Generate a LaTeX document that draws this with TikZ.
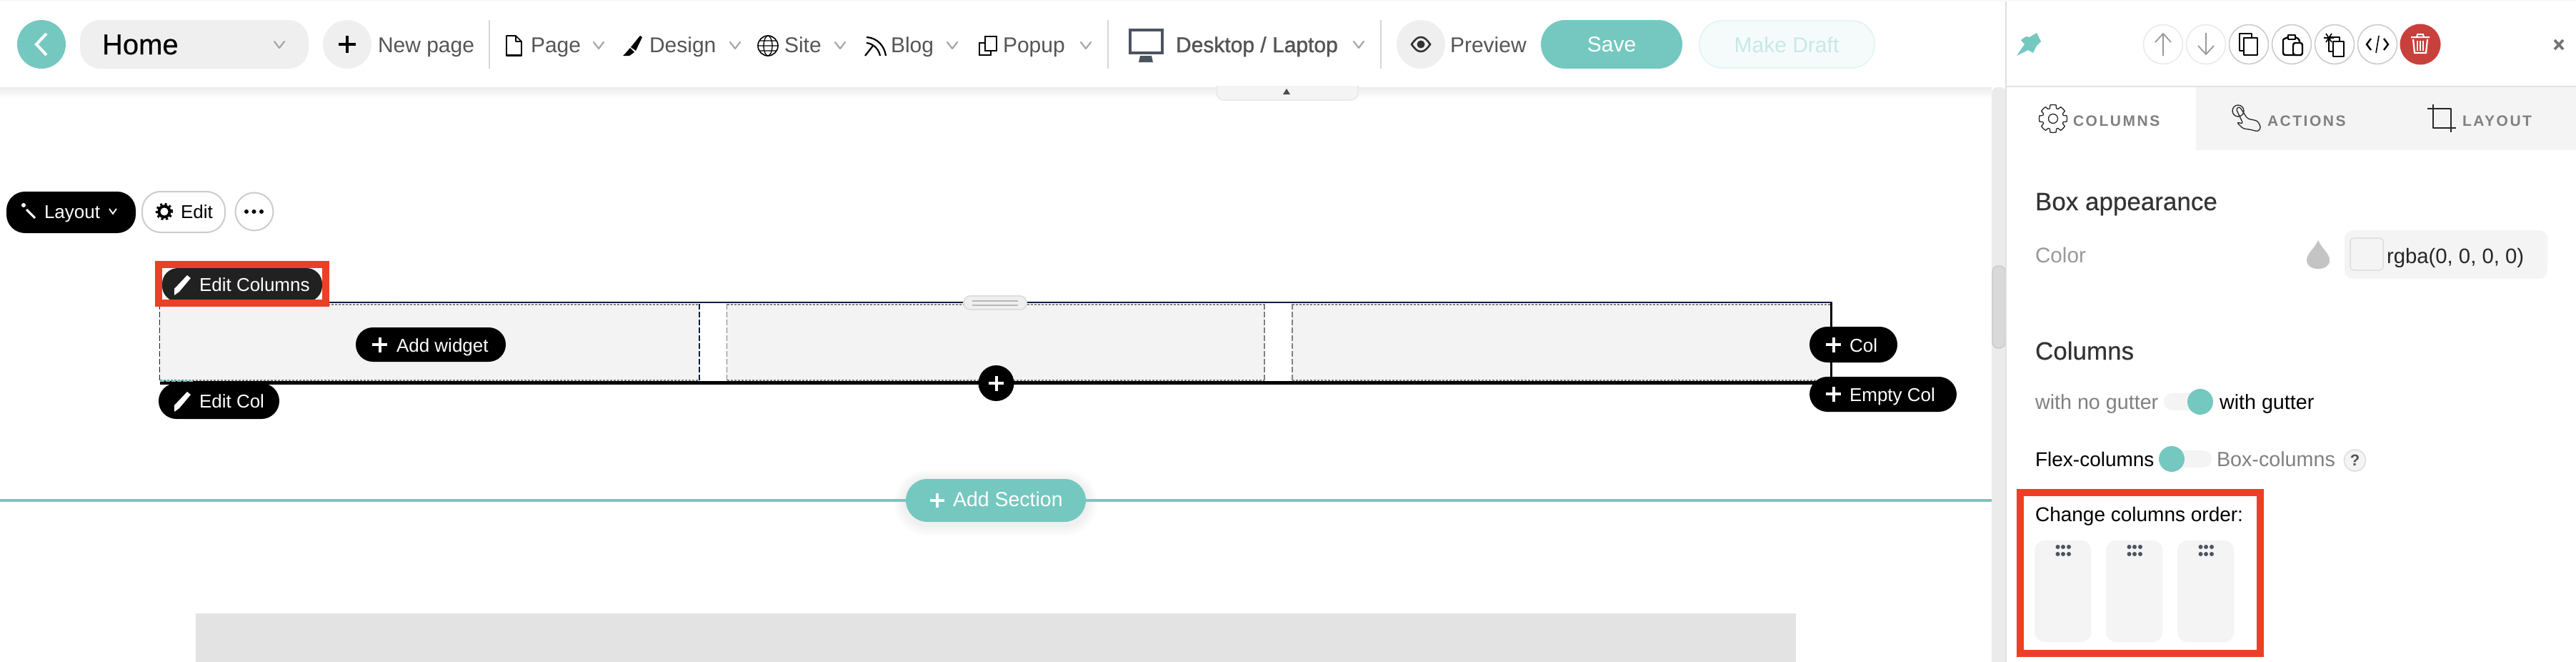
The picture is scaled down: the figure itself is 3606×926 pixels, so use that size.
\documentclass[tikz,border=0pt]{standalone}
\usepackage{fontspec}
\setmainfont{Liberation Sans}
\usetikzlibrary{shadows.blur}
\definecolor{teal1}{HTML}{74C8C0}
\definecolor{redbox}{HTML}{EA4025}
\definecolor{greyA}{HTML}{EFEFEF}
\definecolor{greyB}{HTML}{F4F4F4}
\definecolor{colfill}{HTML}{F3F3F3}
\definecolor{txtA}{HTML}{555555}
\definecolor{navy}{HTML}{0A2240}
\definecolor{trash}{HTML}{C8403C}
\definecolor{slate}{HTML}{4C5460}
\newcommand{\fs}[1]{\fontsize{#1}{#1}\selectfont}
\tikzset{
 x=1pt,y=-1pt,
 lbl/.style={inner sep=0pt,outer sep=0pt,anchor=base west,font=\fs{30},text=txtA},
 plbl/.style={lbl,font=\fs{28.7}},
 chev/.style={draw=gray!70,line width=2.2pt,line cap=round,line join=round},
 ticon/.style={draw=black,line width=2.4pt,line join=round},
 tool/.style={circle,minimum size=55pt,inner sep=0pt,draw=#1,line width=1.6pt,fill=white},
 wtxt/.style={lbl,text=white,font=\fs{26}},
 plusw/.style={draw=white,line width=4pt},
 plusk/.style={draw=black,line width=4pt},
 card/.style={fill=greyB,rounded corners=14pt},
 redframe/.style={draw=redbox,line width=10pt},
 thin icon/.style={draw=black!85,line width=1.3pt,line join=round},
 tabtxt/.style={lbl,text=black!50,font=\bfseries\fs{21}},
}
\newcommand{\chevd}[2]{\draw[chev] (#1-7,#2-4) -- (#1,#2+5) -- (#1+7,#2-4);}
\newcommand{\plusat}[4]{\draw[#4] (#1-#3,#2)--(#1+#3,#2) (#1,#2-#3)--(#1,#2+#3);}
\newcommand{\pencil}[2]{\fill[white] (#1+19,#2-12) -- (#1+24,#2-8) -- (#1+8,#2+11) -- (#1+1,#2+16) -- (#1+1,#2+7) -- cycle;}
\begin{document}
\begin{tikzpicture}
\useasboundingbox (0,0) rectangle (3606,926);
\fill[white] (0,0) rectangle (3606,926);
% toolbar shadow and top band
\shade[top color=black!7,bottom color=white] (0,122) rectangle (2788,138);
\fill[black!13!blue!3!white] (0,0) rectangle (3606,2);
% collapse tab
\draw[fill=greyB,draw=black!9,line width=1.5pt,rounded corners=10pt] (1703,118) -- (1703,140) -- (1901,140) -- (1901,118);
\fill[white] (1700,110) rectangle (1904,120);
\fill[black!70] (1801,124) -- (1806,132) -- (1796,132) -- cycle;
% back + home
\node[circle,fill=teal1,minimum size=68pt,inner sep=0pt] (back) at (58,62) {};
\draw[white,line width=4pt,line join=miter] (65,47) -- (51,62) -- (65,77);
\fill[greyA,rounded corners=28pt] (112,28) rectangle (432,96);
\node[lbl,text=black,font=\fs{40}] (home) at (143,76) {\addfontfeature{FakeBold=0.4}Home};
\chevd{391}{62}
\node[circle,fill=greyA,minimum size=68pt,inner sep=0pt] (newp) at (486,62) {};
\plusat{486}{62}{12}{plusk}
\node[lbl] (newt) at (529,73) {New page};
\draw[black!16,line width=1.5pt] (685,28) -- (685,96);
% page
\draw[ticon,line width=1.7pt] (709,50) -- (722,50) -- (730,58) -- (730,78) -- (709,78) -- cycle (722,50) -- (722,58) -- (730,58);
\draw[black,line width=2.2pt] (709,77.5) -- (730,77.5);
\node[lbl] (pg) at (743,73) {Page};
\chevd{838}{63}
% brush
\fill[black] (896,50) -- (899,52) -- (890,71) -- (883,66) -- cycle;
\fill[black] (882,67) -- (888,73) -- (881,78) -- (872,78) -- (876,74) -- cycle;
\node[lbl] (ds) at (909,73) {Design};
\chevd{1029}{63}
% globe
\draw[black,line width=1.6pt] (1075,64) circle (14pt);
\draw[black,line width=1.3pt] (1075,64) ellipse (6pt and 14pt) (1061,64) -- (1089,64) (1063,57) -- (1087,57) (1063,71) -- (1087,71);
\node[lbl] (st) at (1098,73) {Site};
\chevd{1176}{63}
% blog
\draw[black,line width=2.2pt] (1213,52) .. controls (1228,53) and (1238,64) .. (1240,78);
\draw[black,line width=2.2pt] (1213,60) .. controls (1222,61) and (1230,68) .. (1232,78);
\draw[black,line width=2.2pt] (1211,78) -- (1222,64);
\node[lbl] (bl) at (1247,73) {Blog};
\chevd{1333}{63}
% popup
\draw[black,line width=2.4pt,fill=white] (1371,60) rectangle (1387,77);
\draw[black,line width=2.4pt,fill=white] (1379,51) rectangle (1395,71);
\node[lbl] (pu) at (1404,73) {Popup};
\chevd{1520}{63}
\draw[black!16,line width=1.5pt] (1551,28) -- (1551,96);
% monitor
\draw[slate,line width=3.5pt] (1582,42) rectangle (1627,74);
\fill[slate] (1596,78) -- (1612,78) -- (1614,87) -- (1594,87) -- cycle;
\node[lbl] (dl) at (1646,73) {\addfontfeature{FakeBold=1.3}Desktop / Laptop};
\chevd{1902}{62}
\draw[black!16,line width=1.5pt] (1933,28) -- (1933,96);
\node[circle,fill=greyA,minimum size=68pt,inner sep=0pt] (prv) at (1989,62) {};
\draw[black!80,line width=2.6pt] (1976,62) .. controls (1981,55) and (1984,52) .. (1989,52) .. controls (1994,52) and (1997,55) .. (2002,62) .. controls (1997,69) and (1994,72) .. (1989,72) .. controls (1984,72) and (1981,69) .. (1976,62) -- cycle;
\fill[black!80] (1989,62) circle (5.5pt);
\node[lbl] (prt) at (2030,73) {Preview};
\fill[teal1,rounded corners=34pt] (2157,28) rectangle (2355,96);
\node[inner sep=0pt,text=white,font=\fs{30}] (save) at (2256,62) {Save};
\draw[fill=teal1!7,draw=teal1!18,line width=2pt,rounded corners=32pt] (2379,29) rectangle (2624,95);
\node[inner sep=0pt,text=teal1!40,font=\fs{30}] (draft) at (2501,63) {Make Draft};
% gray bottom rect
\fill[black!11] (274,858) rectangle (2514,926);
% section line
\foreach \s in {16,13,10,7,4}
  \fill[black,opacity=0.012,rounded corners=30pt+\s pt] (1268-\s,670-\s+3) rectangle (1520+\s,730+\s+3);
\draw[teal1,line width=4pt] (0,700) -- (2788,700);
\fill[teal1,rounded corners=30pt] (1268,670) rectangle (1520,730);
\plusat{1312}{700}{10}{draw=white,line width=3.6pt}
\node[lbl,text=white,font=\fs{28.5}] (addsec) at (1334,708) {Add Section};
% layout row
\fill[black,rounded corners=26pt] (9,268) rectangle (190,326);
\fill[white] (33,287) circle (3pt);
\draw[white,line width=3pt] (37,293) -- (49,305);
\node[wtxt] (lay) at (62,305) {Layout};
\draw[white,line width=1.8pt] (153,292) -- (158,299) -- (163,292);
\draw[black!20,line width=2pt,fill=white,rounded corners=26pt] (199,268) rectangle (315,325);
\draw[black,line width=4pt] (230,296) circle (7.5pt);
\draw[black,line width=3.4pt,dash pattern=on 3pt off 3.4pt] (230,296) circle (10.5pt);
\node[lbl,text=black,font=\fs{26}] (edt) at (253,305) {Edit};
\node[circle,draw=black!20,line width=2pt,fill=white,minimum size=53pt,inner sep=0pt] (more) at (356,296) {};
\foreach \dx in {345,355.5,366} \fill[black] (\dx,296) circle (3pt);
% main row
\fill[colfill] (224,425) rectangle (979,533);
\fill[colfill] (1018,425) rectangle (1770,533);
\fill[colfill] (1809,425) rectangle (2562,533);
\draw[gray,line width=1.6pt,dash pattern=on 3pt off 2pt] (224,426) -- (979,426) (1018,426) -- (1770,426) (1809,426) -- (2562,426);
\draw[gray,line width=1.6pt,dash pattern=on 3pt off 2pt] (224,532) -- (979,532) (1018,532) -- (1770,532) (1809,532) -- (2562,532);
\draw[gray,line width=1.2pt,dash pattern=on 8pt off 3pt] (1017.5,425) -- (1017.5,533) (1770,425) -- (1770,533) (1809,425) -- (1809,533);
\draw[navy,line width=1.4pt,dash pattern=on 8pt off 3pt] (223.5,425) -- (223.5,535) (979,425) -- (979,533);
\draw[navy,line width=2.6pt] (224,423) -- (2565,423);
\draw[black,line width=4.5pt] (224,535.5) -- (2565,535.5);
\draw[black,line width=3pt] (2563.5,424) -- (2563.5,535);
\draw[teal1,line width=2.2pt,dash pattern=on 6pt off 2pt] (224,533) -- (271,533);
\draw[fill=greyA,draw=black!13,line width=1.8pt,rounded corners=9pt] (1349,414) rectangle (1437,433);
\draw[black!28,line width=2.4pt] (1361,421) -- (1425,421) (1361,427) -- (1425,427);
\node[circle,fill=black,minimum size=50pt,inner sep=0pt] (addc) at (1394.5,536) {};
\plusat{1394.5}{536}{10.5}{plusw}
% edit columns
\fill[white] (227,375) rectangle (451,419);
\fill[black!87,rounded corners=22pt] (227,375) rectangle (451,422);
\pencil{243}{397}
\node[wtxt] (ec) at (279,407) {Edit Columns};
\draw[redframe] (222,370) rectangle (456,424);
% add widget
\fill[black,rounded corners=24pt] (498,458) rectangle (708,506);
\plusat{531.5}{482}{10.5}{plusw}
\node[wtxt] (aw) at (555,492) {Add widget};
% edit col
\fill[black,rounded corners=25pt] (222,536) rectangle (391,586);
\pencil{243}{560}
\node[wtxt] (ecol) at (279,570) {Edit Col};
% col buttons
\fill[black,rounded corners=25pt] (2533,457) rectangle (2656,507);
\plusat{2566.5}{482}{10.5}{plusw}
\node[wtxt] (pc) at (2589,492) {Col};
\fill[black,rounded corners=25pt] (2533,527) rectangle (2739,576);
\plusat{2566.5}{551}{10.5}{plusw}
\node[wtxt] (pe) at (2589,561) {Empty Col};
% scrollbar & panel divider
\fill[black!8,rounded corners=8pt] (2788,122) rectangle (2808,140);
\fill[black!8] (2788,132) rectangle (2808,926);
\draw[black!22,fill=black!15,line width=1.2pt,rounded corners=8pt] (2789,372) rectangle (2807,487);
\fill[white] (2809,2) rectangle (3606,926);
\fill[black!12] (2806.5,2) rectangle (2809,926);
\fill[black!11] (2808,120) rectangle (3606,122);
% panel top
\fill[teal1] (2851,46) -- (2857,58) -- (2851,64) -- (2846,74) -- (2839,70) -- (2823,78) -- (2834,62) -- (2829,56) -- (2836,51) -- (2841,52) -- cycle;
\node[tool=black!8] (up) at (3028,62) {};
\node[tool=black!8] (dn) at (3088,62) {};
\node[tool=black!20] (cp) at (3148,62) {};
\node[tool=black!20] (pa) at (3208,62) {};
\node[tool=black!20] (dp) at (3268,62) {};
\node[tool=black!20] (cd) at (3328,62) {};
\node[circle,minimum size=57pt,inner sep=0pt,fill=trash] (del) at (3388,62) {};
\draw[black!40,line width=1.8pt] (3028,78) -- (3028,47) (3017,59) -- (3028,47) -- (3039,59);
\draw[black!40,line width=1.8pt] (3088,46) -- (3088,76) (3077,64) -- (3088,76) -- (3099,64);
\draw[ticon] (3135,47) rectangle (3152,71);
\draw[ticon,fill=white] (3141,53) rectangle (3160,77);
\draw[ticon,rounded corners=3pt] (3196,55) -- (3196,77) -- (3222,77) (3196,55) -- (3203,52) (3213,52) -- (3219,55) -- (3219,62);
\draw[ticon,fill=white] (3203,49) rectangle (3213,55);
\draw[ticon,fill=white,rounded corners=3pt] (3210,60) rectangle (3223,77);
\draw[black,line width=1.6pt] (3256,47) -- (3264,59) (3264,47) -- (3256,59) (3253,53) -- (3267,53);
\draw[ticon] (3260,52) rectangle (3275,72);
\draw[ticon,fill=white] (3266,58) rectangle (3281,79);
\draw[black,line width=2.4pt] (3319,54) -- (3313,62) -- (3319,70) (3337,54) -- (3343,62) -- (3337,70);
\draw[black,line width=1.6pt] (3330,50) -- (3326,74);
\draw[white,line width=2pt] (3375,52) -- (3401,52) (3383,52) -- (3384,48) -- (3392,48) -- (3393,52);
\draw[white,line width=2.2pt] (3378,55) -- (3380,74) -- (3396,74) -- (3398,55);
\draw[white,line width=1.4pt] (3384,57) -- (3384,71) (3388,57) -- (3388,71) (3392,57) -- (3392,71);
\draw[black!55,line width=3.6pt] (3576,56) -- (3588,69) (3588,56) -- (3576,69);
% tabs
\fill[greyB] (3074,122) rectangle (3606,210);
\draw[thin icon] (2874,166) circle (6.5pt);
\draw[thin icon] ([shift={(2874,166)}]0:19.5pt)
  \foreach \a in {0,45,...,315} {
    -- ([shift={(2874,166)}]\a:19.5pt) -- ([shift={(2874,166)}]\a+12:19.5pt) -- ([shift={(2874,166)}]\a+18:15pt) -- ([shift={(2874,166)}]\a+27:15pt) -- ([shift={(2874,166)}]\a+33:19.5pt)
  } -- cycle;
\node[tabtxt] (tc) at (2902,176) {\addfontfeature{LetterSpace=12}COLUMNS};
\draw[thin icon] (3133,155) circle (8pt);
\draw[thin icon,rounded corners=3pt] (3130,152) -- (3135,149) -- (3146,166) -- (3160,169) -- (3165,178) -- (3161,184) -- (3149,181) -- (3140,180) -- (3131,171) -- (3140,173) -- cycle;
\node[tabtxt] (ta) at (3174,176) {\addfontfeature{LetterSpace=12}ACTIONS};
\draw[thin icon] (3398,152) -- (3431,152) -- (3431,185);
\draw[thin icon] (3406,146) -- (3406,179) -- (3438,179);
\node[tabtxt] (tl) at (3447,176) {\addfontfeature{LetterSpace=12}LAYOUT};
% panel content
\node[lbl,text=black!80,font=\fs{35}] (ba) at (2849,294) {\addfontfeature{FakeBold=0.4}Box appearance};
\node[lbl,text=black!40,font=\fs{29.7}] (cl) at (2849,367) {Color};
\fill[black!23] (3245,336) .. controls (3250,348) and (3261,354) .. (3261,364) .. controls (3261,372) and (3254,376) .. (3245,376) .. controls (3236,376) and (3229,372) .. (3229,364) .. controls (3229,354) and (3240,348) .. (3245,336) -- cycle;
\fill[greyB,rounded corners=12pt] (3282,322) rectangle (3566,390);
\draw[black!13,line width=1.5pt,fill=greyB,rounded corners=5pt] (3290,333) rectangle (3336,378);
\node[lbl,text=black!85,font=\fs{29.3}] (rg) at (3341,368) {rgba(0, 0, 0, 0)};
\node[lbl,text=black!80,font=\fs{35}] (cols) at (2849,503) {\addfontfeature{FakeBold=0.4}Columns};
\node[plbl,text=black!50] (nog) at (2849,572) {with no gutter};
\fill[greyB,rounded corners=12pt] (3029,550) rectangle (3093,574);
\node[circle,fill=teal1,minimum size=36pt,inner sep=0pt] (k1) at (3080,562) {};
\node[plbl,text=black] (wg) at (3107,572) {with gutter};
\node[plbl,text=black,font=\fs{28}] (fl) at (2849,652) {Flex-columns};
\fill[greyB,rounded corners=12pt] (3035,630) rectangle (3096,654);
\node[circle,fill=teal1,minimum size=36pt,inner sep=0pt] (k2) at (3040,642) {};
\node[plbl,text=black!50] (bx) at (3103,652) {Box-columns};
\node[circle,draw=black!13,line width=1.6pt,fill=greyB,minimum size=30pt,inner sep=0pt,font=\bfseries\fs{22},text=txtA] (q) at (3296.5,644) {?};
% order box
\draw[redframe] (2828,689) rectangle (3164,914);
\node[plbl,text=black,font=\fs{28}] (co) at (2849,729) {Change columns order:};
\foreach \cx in {2848,2948,3048} {
 \fill[card] (\cx,756) rectangle (\cx+79.5,898);
 \foreach \dx in {32.5,40,48} \foreach \dy in {765,775} \fill[slate] (\cx+\dx,\dy) circle (3pt);
}
\end{tikzpicture}
\end{document}
